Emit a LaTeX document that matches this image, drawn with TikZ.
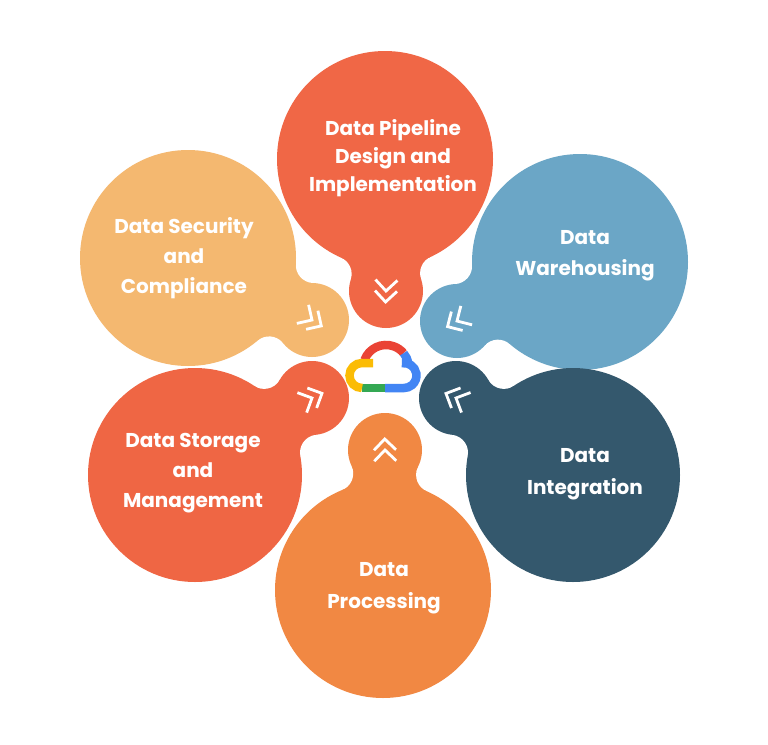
\documentclass[tikz,border=0pt]{standalone}
\usepackage{fontspec}
\setmainfont{Poppins}
\definecolor{cpipe}{HTML}{F06746}
\definecolor{cware}{HTML}{6BA6C6}
\definecolor{cinteg}{HTML}{34586D}
\definecolor{cproc}{HTML}{F18843}
\definecolor{cstor}{HTML}{EF6644}
\definecolor{csec}{HTML}{F4B870}
\definecolor{gred}{HTML}{EA4335}
\definecolor{gblue}{HTML}{4285F4}
\definecolor{ggreen}{HTML}{34A853}
\definecolor{gyellow}{HTML}{FBBC05}
\newcommand{\bubcalc}[6]{% bx by sx sy R r
  \pgfmathsetmacro\Ang{atan2(-(#4-#2),#3-#1)}%
  \pgfmathsetmacro\D{veclen(#3-#1,#4-#2)}%
  \pgfmathsetmacro\aa{#5+18}\pgfmathsetmacro\bb{#6+18}%
  \pgfmathsetmacro\X{\D/2+((\aa-\bb)/\D)*(\aa+\bb)/2}%
  \pgfmathsetmacro\Y{sqrt((\aa-\X)*(\aa+\X))}%
  \pgfmathsetmacro\Pax{\X*#5/\aa}\pgfmathsetmacro\Pay{\Y*#5/\aa}%
  \pgfmathsetmacro\Pbx{\D+(\X-\D)*#6/\bb}\pgfmathsetmacro\Pby{\Y*#6/\bb}%
}
\newcommand{\neck}[7]{\bubcalc{#1}{#2}{#3}{#4}{#5}{#6}%
  \begin{scope}[shift={(#1,#2)},rotate=\Ang]
    \fill[#7] (\Pax,\Pay) -- (\Pbx,\Pby) -- (\Pbx,-\Pby) -- (\Pax,-\Pay) -- cycle;
  \end{scope}}
\newcommand{\fillets}[6]{\bubcalc{#1}{#2}{#3}{#4}{#5}{#6}%
  \begin{scope}[shift={(#1,#2)},rotate=\Ang]
    \fill[white] (\X,\Y) circle (18); \fill[white] (\X,-\Y) circle (18);
  \end{scope}}
\newcommand{\circs}[7]{\fill[#7] (#1,#2) circle (#5); \fill[#7] (#3,#4) circle (#6);
  \pgfmathsetmacro\Ch{atan2(-(365-#4),383-#3)}%
  \begin{scope}[shift={(#3,#4)},rotate=\Ch]
    \draw[chev] (-11,-11) -- (0,0) -- (-11,11);
    \draw[chev] (0,-11) -- (11,0) -- (0,11);
  \end{scope}}
\newcommand{\allb}[1]{%
 #1{385}{159}{386}{291}{108}{37}{cpipe}
 #1{580}{262}{457}{321}{108}{37}{cware}
 #1{573}{475}{456}{398}{107}{37}{cinteg}
 #1{383}{590}{385}{450}{108}{37}{cproc}
 #1{195}{475}{312}{398}{107}{37}{cstor}
 #1{188}{258}{312}{320}{108}{37}{csec}}
\begin{document}
\begin{tikzpicture}[x=1pt,y=-1pt,
  chev/.style={white,line width=2.8pt,line cap=butt},
  lbl/.style={text=white,align=center}]
\fill[white] (0,0) rectangle (768,744);
\allb{\neck}
\allb{\fillets}
\allb{\circs}
\node[lbl,font=\fontsize{20}{28}\selectfont\bfseries] (t1) at (393,158) {Data Pipeline\\Design and\\Implementation};
\node[lbl,font=\fontsize{20}{31}\selectfont\bfseries] (t2) at (585,256) {Data\\Warehousing};
\node[lbl,font=\fontsize{20}{32}\selectfont\bfseries] (t3) at (585,474) {Data\\Integration};
\node[lbl,font=\fontsize{20}{32}\selectfont\bfseries] (t4) at (384,588) {Data\\Processing};
\node[lbl,font=\fontsize{20}{30}\selectfont\bfseries] (t5) at (193,473) {Data Storage\\and\\Management};
\node[lbl,font=\fontsize{20}{30}\selectfont\bfseries] (t6) at (184,258) {Data Security\\and\\Compliance};
% logo
\begin{scope}[line width=8.5pt]
  \draw[gred] (364.4,360.1) arc[start angle=-160,end angle=-40,radius=23];
  \draw[gblue] (403.6,353.2) arc[start angle=-40,end angle=-12,radius=23];
  \draw[gblue] (401.8,363.2) arc[start angle=-100,end angle=90,radius=12.5] -- (385,388);
  \draw[ggreen] (385,388) -- (362,388);
  \draw[gyellow] (362,388) arc[start angle=90,end angle=270,radius=12.5] -- (373,363);
\end{scope}
\end{tikzpicture}
\end{document}
